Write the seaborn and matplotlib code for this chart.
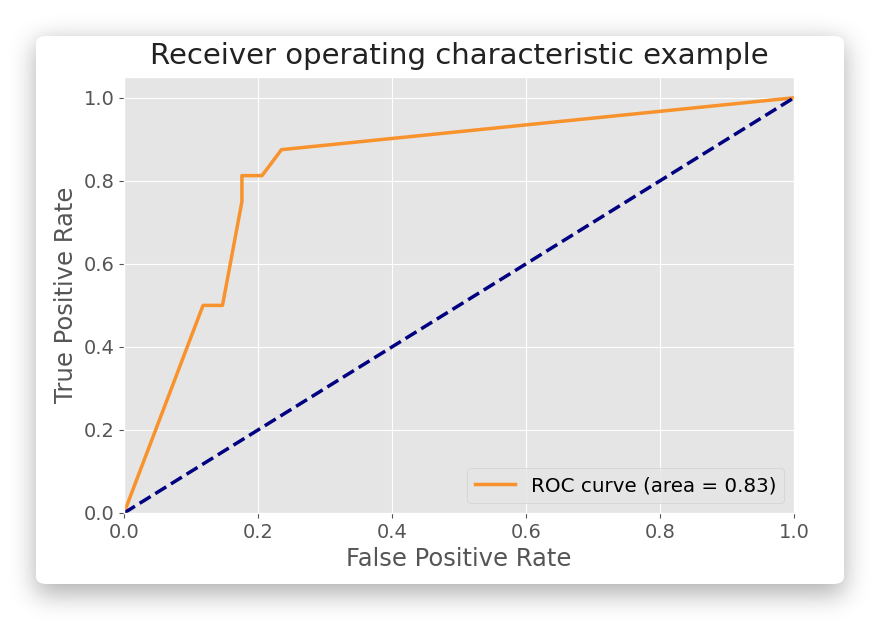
import matplotlib
matplotlib.use("Agg")
import matplotlib.pyplot as plt
from matplotlib.patches import FancyBboxPatch
import seaborn as sns
import pandas as pd
import numpy as np

# ROC curve
fpr = [0.0, 0.118, 0.147, 0.176, 0.176, 0.206, 0.235, 1.0]
tpr = [0.0, 0.5, 0.5, 0.75, 0.8125, 0.8125, 0.875, 1.0]
chance_x = [0.0, 1.0]
chance_y = [0.0, 1.0]
roc_label = "ROC curve (area = 0.83)"
ticks = [0.0, 0.2, 0.4, 0.6, 0.8, 1.0]

W, H = 880, 620
plt.style.use("ggplot")
plt.rcParams["font.family"] = ["DejaVu Sans"]

fig = plt.figure(figsize=(W / 100, H / 100), dpi=100)
fig.patch.set_facecolor("white")

# soft drop shadow behind the card (screenshot look)
card_l, card_r, card_t, card_b = 36, 844, 36, 584
mask = np.zeros((H, W))
mask[card_t + 6:card_b + 10, card_l:card_r] = 1.0
sigma = 13
k = np.arange(-3 * sigma, 3 * sigma + 1)
kern = np.exp(-(k ** 2) / (2 * sigma ** 2))
kern /= kern.sum()
blur = np.apply_along_axis(lambda r: np.convolve(r, kern, mode="same"), 1, mask)
blur = np.apply_along_axis(lambda c: np.convolve(c, kern, mode="same"), 0, blur)
shadow = np.zeros((H, W, 4))
shadow[..., 3] = blur * 0.32
fig.figimage(shadow, 0, 0, origin="upper", zorder=-2)

card = FancyBboxPatch(
    (card_l / W, 1 - card_b / H),
    (card_r - card_l) / W,
    (card_b - card_t) / H,
    boxstyle="round,pad=0,rounding_size=0.012",
    transform=fig.transFigure,
    facecolor="white",
    edgecolor="none",
    zorder=-1,
)
fig.patches.append(card)

ax = fig.add_axes([124 / W, 1 - 513 / H, (794 - 124) / W, (513 - 77) / H])

roc = pd.DataFrame({"fpr": fpr, "tpr": tpr})
diag = pd.DataFrame({"x": chance_x, "y": chance_y})
sns.lineplot(data=roc, x="fpr", y="tpr", sort=False, estimator=None,
             color="#f7922d", lw=2.5, label=roc_label, ax=ax)
sns.lineplot(data=diag, x="x", y="y", sort=False, estimator=None,
             color="navy", lw=2.5, linestyle="--", ax=ax)

ax.set_xlim(0.0, 1.0)
ax.set_ylim(0.0, 1.05)
ax.set_xticks(ticks)
ax.set_yticks(ticks)
ax.tick_params(labelsize=14, colors="#555555", labelcolor="#555555")
ax.set_xlabel("False Positive Rate", fontsize=17.5, color="#555555")
ax.set_ylabel("True Positive Rate", fontsize=17.5, color="#555555")
ax.set_title("Receiver operating characteristic example", fontsize=21,
             color="#222222", pad=9)
ax.legend(loc="lower right", fontsize=14.3)

fig.savefig("out.png", dpi=100, facecolor=fig.get_facecolor())
